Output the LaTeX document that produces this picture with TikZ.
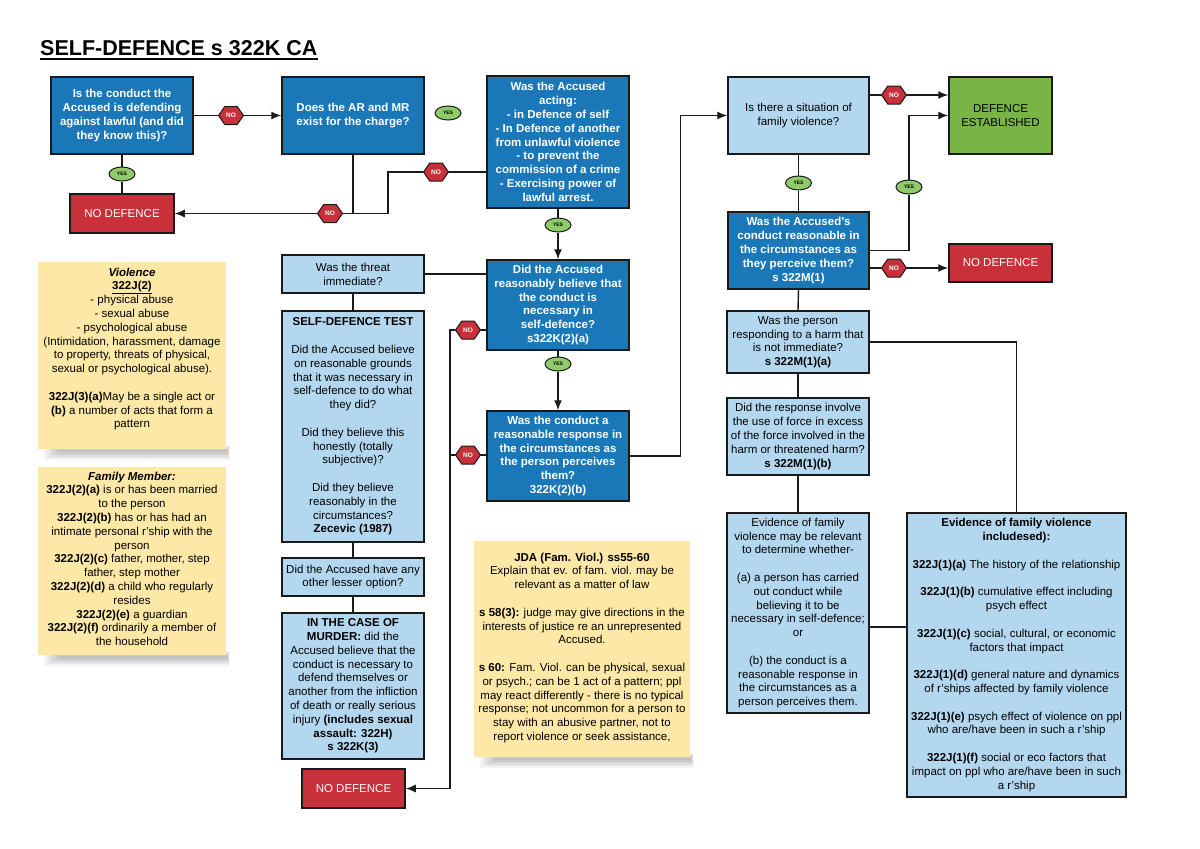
\documentclass[tikz,border=0pt]{standalone}
\usepackage{fontspec}
\setmainfont{Liberation Sans}
\usetikzlibrary{shapes.symbols,shapes.geometric,arrows.meta,calc}
\definecolor{dkblue}{HTML}{1A78B9}
\definecolor{ltblue}{HTML}{B4D7F0}
\definecolor{redbox}{HTML}{C8303A}
\definecolor{grnbox}{HTML}{79B546}
\definecolor{yesgrn}{HTML}{8FCB68}
\definecolor{noteyel}{HTML}{FDE8A7}
\definecolor{edge}{HTML}{1A1A1A}
\tikzset{
 basefont/.style={font=\fontsize{11.5}{13.8}\selectfont},
 box/.style={basefont, draw=edge, line width=1.5pt, align=center, inner sep=1pt},
 dkbox/.style={box, fill=dkblue, text=white, font=\fontsize{11.5}{13.8}\selectfont\bfseries},
 ltbox/.style={box, fill=ltblue},
 rdbox/.style={box, fill=redbox, text=white},
 gnbox/.style={box, fill=grnbox},
 notebox/.style={fill=noteyel, inner sep=0pt},
 notetext/.style={basefont, align=center, inner sep=0pt, anchor=north},
 nohex/.style={shape=signal, signal to=west and east, signal pointer angle=110, fill=redbox, draw=edge, line width=1pt, text=white, font=\fontsize{6.5}{7}\selectfont\bfseries, minimum width=25pt, minimum height=18pt, inner sep=0pt},
 yesov/.style={ellipse, fill=yesgrn, draw=edge, line width=1pt, font=\fontsize{5}{6}\selectfont\bfseries, minimum width=26pt, minimum height=14pt, inner sep=0pt},
 conn/.style={draw=edge, line width=1.4pt},
 arr/.style={conn, -{Latex[length=10pt,width=8pt]}},
 shadowA/.style={fill=black, opacity=0.045},
}
\begin{document}
\begin{tikzpicture}[x=1pt,y=-1pt]
\useasboundingbox (0,0) rectangle (1200,849);
\fill[white] (0,0) rectangle (1200,849);

% title
\node[anchor=base west, inner sep=0pt, font=\fontsize{21.5}{26}\selectfont\bfseries] (title) at (40,55) {SELF-DEFENCE s 322K CA};
\draw[line width=2.2pt] ($(title.base west)+(0,4)$) -- ($(title.base east)+(0,4)$);

% note shadows
\foreach \xa/\xb/\yb in {38/226/449, 38/226/655, 474/690/757}{
  \foreach \k in {0,1,2,3,4,5}{
    \fill[shadowA] (\xa+6+3*\k,\yb-4+\k) rectangle (\xb+4-\k*0.6,\yb+11-1.6*\k);
  }
}

% notes
\node[notebox, minimum width=188pt, minimum height=187pt] (violbg) at (132,355.5) {};
\node[notetext] (violtx) at (132,267.5) {\textbf{\textit{Violence}}\\\textbf{\underline{322J(2)}}\\- physical abuse\\- sexual abuse\\- psychological abuse\\(Intimidation, harassment, damage\\to property, threats of physical,\\sexual or psychological abuse).\\[13.8pt]\textbf{322J(3)(a)}May be a single act or\\\textbf{(b)} a number of acts that form a\\pattern};
\node[notebox, minimum width=188pt, minimum height=188pt] (fambg) at (132,561) {};
\node[notetext] (famtx) at (132,471.5) {\textbf{\textit{Family Member:}}\\\textbf{322J(2)(a)} is or has been married\\to the person\\\textbf{322J(2)(b)} has or has had an\\intimate personal r'ship with the\\person\\\textbf{322J(2)(c)} father, mother, step\\father, step mother\\\textbf{322J(2)(d)} a child who regularly\\resides\\\textbf{322J(2)(e)} a guardian\\\textbf{322J(2)(f)} ordinarily a member of\\the household};
\node[notebox, minimum width=216pt, minimum height=216pt] (jdabg) at (582,649) {};
\node[notetext] (jdatx) at (582,552.5) {\textbf{JDA (Fam. Viol.) ss55-60}\\Explain that ev. of fam. viol. may be\\relevant as a matter of law\\[13.8pt]\textbf{s 58(3):} judge may give directions in the\\interests of justice re an unrepresented\\Accused.\\[13.8pt]\textbf{s 60:} Fam. Viol. can be physical, sexual\\or psych.; can be 1 act of a pattern; ppl\\may react differently - there is no typical\\response; not uncommon for a person to\\stay with an abusive partner, not to\\report violence or seek assistance,};

% boxes
\node[dkbox, minimum width=142pt, minimum height=77pt] (q1) at (122,115.5) {Is the conduct the\\Accused is defending\\against lawful (and did\\they know this)?};
\node[dkbox, minimum width=142pt, minimum height=77pt] (armr) at (353,115.5) {Does the AR and MR\\exist for the charge?};
\node[rdbox, minimum width=104pt, minimum height=39pt] (nd1) at (122,213.5) {NO DEFENCE};
\node[dkbox, minimum width=142pt, minimum height=132pt] (acting) at (558,142) {Was the Accused\\acting:\\- in Defence of self\\- In Defence of another\\from unlawful violence\\- to prevent the\\commission of a crime\\- Exercising power of\\lawful arrest.};
\node[dkbox, minimum width=142pt, minimum height=90pt] (believe) at (558,305) {Did the Accused\\reasonably believe that\\the conduct is\\necessary in\\self-defence?\\s322K(2)(a)};
\node[dkbox, minimum width=142pt, minimum height=90pt] (conduct) at (558,456) {Was the conduct a\\reasonable response in\\the circumstances as\\the person perceives\\them?\\322K(2)(b)};
\node[ltbox, minimum width=142pt, minimum height=38pt] (threat) at (353,274) {Was the threat\\immediate?};
\node[ltbox, minimum width=142pt, minimum height=231pt] (sdt) at (353,426.5) {\textbf{SELF-DEFENCE TEST}\\[13.8pt]Did the Accused believe\\on reasonable grounds\\that it was necessary in\\self-defence to do what\\they did?\\[13.8pt]Did they believe this\\honestly (totally\\subjective)?\\[13.8pt]Did they believe\\reasonably in the\\circumstances?\\\textbf{Zecevic (1987)}};
\node[ltbox, minimum width=142pt, minimum height=38pt] (lesser) at (353,577) {Did the Accused have any\\other lesser option?};
\node[ltbox, minimum width=142pt, minimum height=146pt] (murder) at (353,686) {\textbf{IN THE CASE OF}\\\textbf{MURDER:} did the\\Accused believe that the\\conduct is necessary to\\defend themselves or\\another from the infliction\\of death or really serious\\injury \textbf{(includes sexual}\\\textbf{assault: 322H)}\\\textbf{s 322K(3)}};
\node[rdbox, minimum width=103pt, minimum height=39pt] (nd2) at (353.5,788.5) {NO DEFENCE};
\node[ltbox, minimum width=141pt, minimum height=77pt] (family) at (798.5,115.5) {Is there a situation of\\family violence?};
\node[gnbox, minimum width=103pt, minimum height=77pt] (defest) at (1000.5,115.5) {DEFENCE\\ESTABLISHED};
\node[dkbox, minimum width=141pt, minimum height=77pt] (reason) at (798.5,250.5) {Was the Accused's\\conduct reasonable in\\the circumstances as\\they perceive them?\\s 322M(1)};
\node[rdbox, minimum width=103pt, minimum height=38pt] (nd3) at (1000.5,263) {NO DEFENCE};
\node[ltbox, minimum width=142pt, minimum height=62pt] (person) at (798,342) {Was the person\\responding to a harm that\\is not immediate?\\\textbf{s 322M(1)(a)}};
\node[ltbox, minimum width=142pt, minimum height=77pt] (excess) at (798,436.5) {Did the response involve\\the use of force in excess\\of the force involved in the\\harm or threatened harm?\\\textbf{s 322M(1)(b)}};
\node[ltbox, minimum width=142pt, minimum height=200pt] (ev1) at (798,613) {Evidence of family\\violence may be relevant\\to determine whether-\\[13.8pt](a) a person has carried\\out conduct while\\believing it to be\\necessary in self-defence;\\or\\[13.8pt](b) the conduct is a\\reasonable response in\\the circumstances as a\\person perceives them.};
\node[ltbox, minimum width=219pt, minimum height=284pt] (ev2) at (1016.5,655) {\textbf{Evidence of family violence}\\\textbf{includesed):}\\[13.8pt]\textbf{322J(1)(a)} The history of the relationship\\[13.8pt]\textbf{322J(1)(b)} cumulative effect including\\psych effect\\[13.8pt]\textbf{322J(1)(c)} social, cultural, or economic\\factors that impact\\[13.8pt]\textbf{322J(1)(d)} general nature and dynamics\\of r'ships affected by family violence\\[13.8pt]\textbf{322J(1)(e)} psych effect of violence on ppl\\who are/have been in such a r'ship\\[13.8pt]\textbf{322J(1)(f)} social or eco factors that\\impact on ppl who are/have been in such\\a r'ship};

% labels
\node[nohex] (no1) at (231,115.5) {NO};
\node[nohex] (no2) at (330,213.5) {NO};
\node[nohex] (no3) at (436,172) {NO};
\node[nohex] (no4) at (468,330) {NO};
\node[nohex] (no5) at (468,455) {NO};
\node[nohex] (no6) at (894,95) {NO};
\node[nohex] (no7) at (894,268) {NO};
\node[yesov] (yes1) at (122,174) {YES};
\node[yesov] (yesf) at (448,113) {YES};
\node[yesov] (yes2) at (558,225) {YES};
\node[yesov] (yes3) at (558,364) {YES};
\node[yesov] (yes4) at (798.5,183) {YES};
\node[yesov] (yes5) at (909,187) {YES};

% connectors
\coordinate (j2) at (388,213.5);
\coordinate (v1) at (450,330);
\coordinate (v2) at (450,788.5);
\coordinate (e1) at (869,627);
\draw[conn] (q1.east) -- (no1.west);
\draw[arr] (no1.east) -- (armr.west);
\draw[conn] (q1.south) -- (yes1.north);
\draw[conn] (yes1.south) -- (nd1.north);
\draw[conn] (armr.south) -- (armr.south |- nd1.east);
\draw[conn] (acting.west |- no3) -- (no3.east);
\draw[conn] (no3.west) -| (j2) -- (no2.east);
\draw[arr] (no2.west) -- (nd1.east);
\draw[conn] (acting.south) -- (yes2.north);
\draw[arr] (yes2.south) -- (believe.north);
\draw[conn] (believe.south) -- (yes3.north);
\draw[arr] (yes3.south) -- (conduct.north);
\draw[conn] (threat.east) -- (threat.east -| believe.west);
\draw[conn] (threat.south) -- (sdt.north);
\draw[conn] (sdt.south) -- (lesser.north);
\draw[conn] (lesser.south) -- (murder.north);
\draw[conn] (believe.west |- no4) -- (no4.east);
\draw[arr] (no4.west) -- (v1) -- (v2) -- (nd2.east);
\draw[conn] (conduct.west |- no5) -- (no5.east);
\draw[conn] (no5.west) -- (no5.west -| v1);
\draw[arr] (conduct.east) -- ++(51,0) |- (family.west);
\draw[conn] (family.east |- no6) -- (no6.west);
\draw[arr] (no6.east) -- (defest.west |- no6);
\draw[conn] (family.south) -- (yes4.north);
\draw[conn] (yes4.south) -- (reason.north);
\draw[conn] (reason.east) -| (yes5.south);
\draw[arr] (yes5.north) |- (defest.west);
\draw[conn] (reason.east |- no7) -- (no7.west);
\draw[arr] (no7.east) -- (nd3.west |- no7);
\draw[conn] (reason.south) -- (person.north);
\draw[conn] (person.east) -| (ev2.north);
\draw[conn] (person.south) -- (excess.north);
\draw[conn] (excess.south) -- (ev1.north);
\draw[conn] (ev1.east |- e1) -- (ev2.west |- e1);
\end{tikzpicture}
\end{document}
